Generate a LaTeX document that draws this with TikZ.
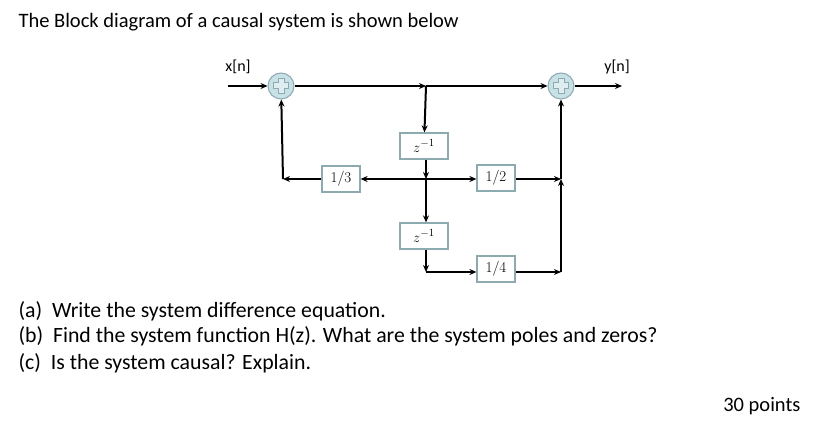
\documentclass[tikz,border=0pt]{standalone}
\usepackage{fontspec}
\setmainfont{Carlito}
\newfontfamily\serifnum{Latin Modern Roman}
\usetikzlibrary{arrows.meta}
\definecolor{boxc}{RGB}{140,170,175}
\definecolor{sumf}{RGB}{200,225,230}
\begin{document}
\begin{tikzpicture}[x=1pt,y=-1pt,
  blk/.style={draw=boxc,line width=1.2pt,fill=white,minimum width=38pt,minimum height=26pt,inner sep=0pt,font=\serifnum\fontsize{15}{15}\selectfont},
  dly/.style={blk,minimum width=48pt,font=\fontsize{15}{15}\selectfont},
  sumn/.style={circle,draw=boxc,line width=1pt,fill=sumf,minimum size=26pt,inner sep=0pt},
  ln/.style={line width=2pt},
  ar/.style={ln,-{Stealth[length=7pt,width=6pt]}},
  txt/.style={font=\fontsize{21.8}{24}\selectfont,anchor=west}]
\useasboundingbox (0,0) rectangle (832,430);
\node[font=\fontsize{20.5}{24}\selectfont,anchor=west] at (15,22) {The Block diagram of a causal system is shown below};
\node[txt] at (15,311) {(a)\ \ Write the system difference equation.};
\node[txt] at (15,336) {(b)\ \ Find the system function H(z). What are the system poles and zeros?};
\node[txt] at (15,363) {(c)\ \ Is the system causal? Explain.};
\node[font=\fontsize{20.5}{24}\selectfont,anchor=east] at (804,406) {30 points};
\node[font=\fontsize{16}{16}\selectfont] (xl) at (238,67) {x[n]};
\node[font=\fontsize{16}{16}\selectfont] (yl) at (617,67) {y[n]};
\node[sumn] (s1) at (281,86) {};
\node[sumn] (s2) at (561,86) {};
\foreach \s in {s1,s2}{
  \draw[boxc,line width=7pt] ([xshift=-8pt]\s.center) -- ([xshift=8pt]\s.center) ([yshift=-8pt]\s.center) -- ([yshift=8pt]\s.center);
  \draw[sumf!60!white,line width=5pt] ([xshift=-7pt]\s.center) -- ([xshift=7pt]\s.center) ([yshift=-7pt]\s.center) -- ([yshift=7pt]\s.center);}
\node[dly] (d1) at (424,146) {$z^{-1}$};
\node[dly] (d2) at (424,236) {$z^{-1}$};
\node[blk] (b3) at (341,179) {1/3};
\node[blk] (b2) at (496,178) {1/2};
\node[blk] (b4) at (496,269) {1/4};
\coordinate (in) at (228,86);
\coordinate (out) at (622,86);
\coordinate (jt) at (426,86);
\coordinate (jm) at (426,179);
\coordinate (jb) at (426,272);
\coordinate (lc) at (283,179);
\coordinate (rm) at (561,179);
\coordinate (rb) at (561,272);
\draw[ar] (in) -- (s1);
\draw[ar] (s1) -- (jt);
\draw[ar] (jt) -- (s2);
\draw[ar] (s2) -- (out);
\draw[ar] (jt) -- (d1);
\draw[ar] (d1.south -| jm) -- (jm);
\draw[ar] (jm) -- (b3);
\draw[ar] (b3) -- (lc);
\draw[ar] (lc) -- (s1);
\draw[ar] (jm) -- (b2.west |- jm);
\draw[ar] (b2.east |- jm) -- (rm);
\draw[ar] (jm) -- (d2.north -| jm);
\draw[ar] (d2.south -| jm) -- (jb);
\draw[ar] (jb) -- (b4.west |- jb);
\draw[ar] (b4.east |- jb) -- (rb);
\draw[ar] (rb) -- (rm);
\draw[ar] (rm) -- (s2);
\end{tikzpicture}
\end{document}
